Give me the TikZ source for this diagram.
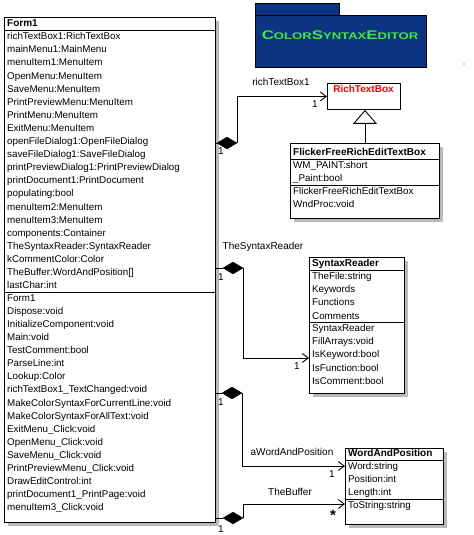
\documentclass[tikz,border=0pt]{standalone}
\usepackage{fontspec}
\setmainfont{Liberation Sans}
\usetikzlibrary{shapes.geometric,arrows.meta,shadows,calc}
\definecolor{pkgblue}{RGB}{12,52,128}
\definecolor{pkggreen}{RGB}{60,235,60}
\definecolor{shadowgray}{RGB}{185,185,185}
\newcommand{\bigsc}[1]{{\fontsize{12.5bp}{14bp}\selectfont #1}}
\newcommand{\smallsc}[1]{{\fontsize{9.7bp}{12bp}\selectfont #1}}
\begin{document}
\begin{tikzpicture}[x=1bp,y=-1bp,
  txt/.style={anchor=west,inner sep=0pt,text height=7.5bp,text depth=2bp,font=\fontsize{9.8bp}{12bp}\selectfont},
  hdr/.style={txt,font=\fontsize{10bp}{12bp}\selectfont\bfseries},
  cbox/.style={draw,line width=0.9bp,fill=white,inner sep=0pt,anchor=north west},
  shad/.style={drop shadow={shadow xshift=3.5bp,shadow yshift=-3.5bp,fill=shadowgray,opacity=1}},
  comp/.style={diamond,fill=black,draw=black,inner sep=0pt,minimum width=20bp,minimum height=12bp},
  conn/.style={line width=0.9bp},
  assoc/.style={conn,-{Straight Barb[length=6bp,width=9bp]}},
  mult/.style={inner sep=0pt,font=\fontsize{10bp}{12bp}\selectfont},
  rolelbl/.style={inner sep=0pt,font=\fontsize{10bp}{12bp}\selectfont},
  sepline/.style={line width=0.9bp}
]
\useasboundingbox (0,0) rectangle (474,535);

% package
\node[draw,fill=pkgblue,line width=0.8bp,anchor=north west,inner sep=0pt,minimum width=84bp,minimum height=12bp] (pkgtab) at (255,3) {};
\node[draw,fill=pkgblue,line width=0.8bp,anchor=north west,inner sep=0pt,minimum width=171bp,minimum height=52bp] (pkg) at (255,15) {};
\node[inner sep=0pt,text=pkggreen,font=\bfseries] (pkgname) at (340,35) {\scalebox{1.35}[1]{\bigsc{C}\smallsc{OLOR}\bigsc{S}\smallsc{YNTAX}\bigsc{E}\smallsc{DITOR}}};
\fill[black!40] (464,64) circle (0.8);

% Form1
\node[cbox,shad,line width=1.2bp,minimum width=211bp,minimum height=505bp] (form1) at (4,17) {};
\node[hdr] (f1name) at (7,24) {Form1};
\draw[sepline] (4,30) -- (215,30);
\foreach \t [count=\i from 0] in {richTextBox1:RichTextBox,mainMenu1:MainMenu,menuItem1:MenuItem,OpenMenu:MenuItem,SaveMenu:MenuItem,PrintPreviewMenu:MenuItem,PrintMenu:MenuItem,ExitMenu:MenuItem,openFileDialog1:OpenFileDialog,saveFileDialog1:SaveFileDialog,printPreviewDialog1:PrintPreviewDialog,printDocument1:PrintDocument,populating:bool,menuItem2:MenuItem,menuItem3:MenuItem,components:Container,TheSyntaxReader:SyntaxReader,kCommentColor:Color,{TheBuffer:WordAndPosition[]},lastChar:int}
  \node[txt] (fa\i) at (7,{37+13.1*\i}) {\t};
\draw[sepline] (4,292) -- (215,292);
\foreach \t [count=\i from 0] in {Form1,Dispose:void,InitializeComponent:void,Main:void,TestComment:bool,ParseLine:int,Lookup:Color,richTextBox1\_TextChanged:void,MakeColorSyntaxForCurrentLine:void,MakeColorSyntaxForAllText:void,ExitMenu\_Click:void,OpenMenu\_Click:void,SaveMenu\_Click:void,PrintPreviewMenu\_Click:void,DrawEditControl:int,printDocument1\_PrintPage:void,menuItem3\_Click:void}
  \node[txt] (fm\i) at (7,{298.5+13.1*\i}) {\t};

% RichTextBox
\node[cbox,minimum width=73bp,minimum height=26bp] (rtb) at (327,83) {};
\node[hdr,anchor=center,text=red] (rtbname) at (363.5,90) {RichTextBox};

% FlickerFreeRichEditTextBox
\node[cbox,shad,minimum width=149bp,minimum height=75bp] (ff) at (290,143) {};
\node[hdr] (ffname) at (293,152.5) {FlickerFreeRichEditTextBox};
\draw[sepline] (290,159) -- (439,159);
\node[txt] (ff1) at (293,166) {WM\_PAINT:short};
\node[txt] (ff2) at (293,179) {\_Paint:bool};
\draw[sepline] (290,185) -- (439,185);
\node[txt] (ff3) at (293,192) {FlickerFreeRichEditTextBox};
\node[txt] (ff4) at (293,205) {WndProc:void};
\draw[conn,-{Triangle[length=14bp,width=24bp,fill=white]}] (ff.north) -- (ff.north |- rtb.south);

% SyntaxReader
\node[cbox,shad,minimum width=95bp,minimum height=136bp] (sr) at (309,257) {};
\node[hdr] (srname) at (312,263.5) {SyntaxReader};
\draw[sepline] (309,270.5) -- (404,270.5);
\foreach \t [count=\i from 0] in {TheFile:string,Keywords,Functions,Comments}
  \node[txt] (sra\i) at (312,{277+13.1*\i}) {\t};
\draw[sepline] (309,322.5) -- (404,322.5);
\foreach \t [count=\i from 0] in {SyntaxReader,FillArrays:void,IsKeyword:bool,IsFunction:bool,IsComment:bool}
  \node[txt] (srm\i) at (312,{329+13.1*\i}) {\t};

% WordAndPosition
\node[cbox,shad,minimum width=98bp,minimum height=76bp] (wap) at (345,448) {};
\node[hdr] (wapname) at (348,454) {WordAndPosition};
\draw[sepline] (345,460.5) -- (443,460.5);
\foreach \t [count=\i from 0] in {Word:string,Position:int,Length:int}
  \node[txt] (wapa\i) at (348,{467+13.1*\i}) {\t};
\draw[sepline] (345,499) -- (443,499);
\node[txt] (wapm0) at (348,506) {ToString:string};

% composition: richTextBox1
\node[comp] (d1) at (227,143) {};
\draw[conn] (form1.east |- d1.west) -- (d1.west);
\draw[assoc] (d1.east) |- (rtb.west);
\node[rolelbl] (l1) at (281,82) {richTextBox1};
\node[mult] (m1a) at (221,151) {1};
\node[mult] (m1b) at (315,104) {1};

% composition: TheSyntaxReader
\node[comp] (d2) at (233,268) {};
\draw[conn] (form1.east |- d2.west) -- (d2.west);
\draw[assoc] (d2.east) |- ($(sr.north west)+(0,101)$);
\node[rolelbl] (l2) at (263,247) {TheSyntaxReader};
\node[mult] (m2a) at (221,277) {1};
\node[mult] (m2b) at (297,366) {1};

% composition: aWordAndPosition
\node[comp] (d3) at (232,393) {};
\draw[conn] (form1.east |- d3.west) -- (d3.west);
\draw[assoc] (d3.east) |- ($(wap.north west)+(0,18)$);
\node[rolelbl] (l3) at (292,452) {aWordAndPosition};
\node[mult] (m3a) at (221,402) {1};
\node[mult] (m3b) at (332,474) {1};

% composition: TheBuffer
\node[comp] (d4) at (233,518) {};
\draw[conn] (form1.east |- d4.west) -- (d4.west);
\draw[assoc] (d4.east) |- ($(wap.north west)+(0,56)$);
\node[rolelbl] (l4) at (290,492) {TheBuffer};
\node[mult] (m4a) at (221,529) {1};
\node[mult,font=\fontsize{15bp}{15bp}\selectfont\bfseries] (m4b) at (333,515) {*};
\end{tikzpicture}
\end{document}
